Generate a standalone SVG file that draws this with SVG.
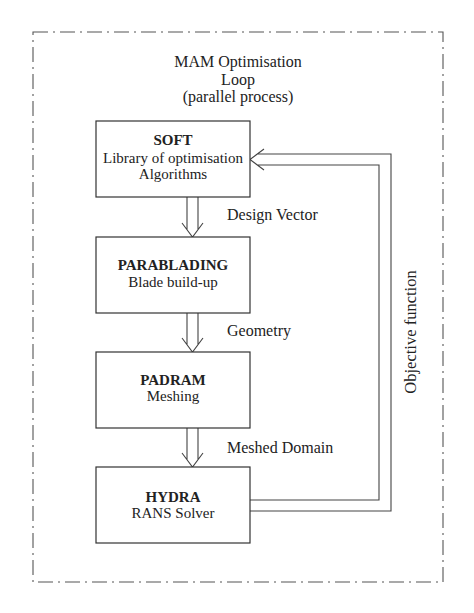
<svg xmlns="http://www.w3.org/2000/svg" width="474" height="613" viewBox="0 0 474 613">
<style>
.box{fill:#fff;stroke:#333;stroke-width:1.2}
.ln{fill:none;stroke:#444;stroke-width:1.1}
.t{font-family:"Liberation Serif","Times New Roman",serif;font-size:15px;fill:#222;text-anchor:middle}
.b{font-weight:bold}
.lbl{font-family:"Liberation Serif","Times New Roman",serif;font-size:16px;fill:#222}
.title{font-family:"Liberation Serif","Times New Roman",serif;font-size:16px;fill:#222;text-anchor:middle}
</style>
<rect width="474" height="613" fill="#fff"/>
<g id="frame">
<rect x="33" y="32" width="410" height="550" fill="none" stroke="#555" stroke-width="1.1" stroke-dasharray="15 5 2 5"/>
<text class="title" x="238" y="67">MAM Optimisation</text>
<text class="title" x="238" y="85">Loop</text>
<text class="title" x="238" y="102">(parallel process)</text>
</g>
<g id="connectors">
<path class="ln" d="M187 197V230M198 197V230M182 223L192.5 237L203 223"/>
<path class="ln" d="M187 313V345M198 313V345M182 338L192.5 352L203 338"/>
<path class="ln" d="M187 428V460M198 428V460M182 453L192.5 467L203 453"/>
<path class="ln" d="M250 500H379V165H257M250 511H391V154H257M264 149L250 159.5L264 170"/>
<text class="lbl" x="227" y="220">Design Vector</text>
<text class="lbl" x="227" y="336">Geometry</text>
<text class="lbl" x="227" y="453">Meshed Domain</text>
<text class="lbl" style="font-size:16.5px" text-anchor="middle" transform="translate(416 332) rotate(-90)">Objective function</text>
</g>
<g id="soft">
<rect class="box" x="96" y="121" width="154" height="76"/>
<text class="t b" x="173" y="145">SOFT</text>
<text class="t" x="173" y="163">Library of optimisation</text>
<text class="t" x="173" y="179">Algorithms</text>
</g>
<g id="parablading">
<rect class="box" x="96" y="237" width="154" height="76"/>
<text class="t b" x="173" y="270">PARABLADING</text>
<text class="t" x="173" y="287">Blade build-up</text>
</g>
<g id="padram">
<rect class="box" x="96" y="352" width="154" height="76"/>
<text class="t b" x="173" y="385">PADRAM</text>
<text class="t" x="173" y="401">Meshing</text>
</g>
<g id="hydra">
<rect class="box" x="96" y="467" width="154" height="76"/>
<text class="t b" x="173" y="502">HYDRA</text>
<text class="t" x="173" y="518">RANS Solver</text>
</g>
</svg>
